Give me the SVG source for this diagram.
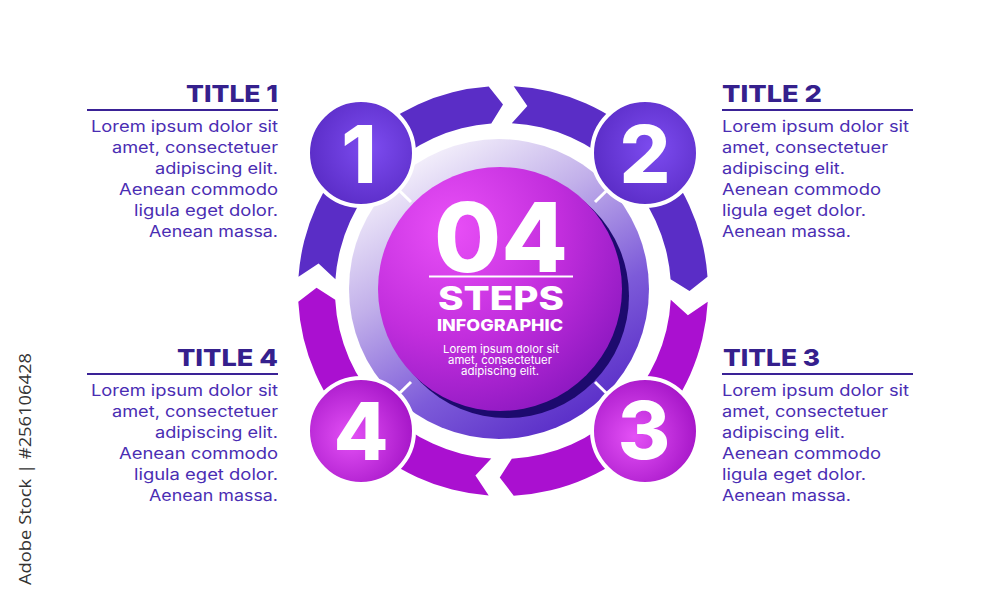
<svg xmlns="http://www.w3.org/2000/svg" width="1000" height="592" viewBox="0 0 1000 592">
<defs>
<style>
.title{font-family:Inter,"Liberation Sans",sans-serif;font-weight:800;font-size:23.5px;fill:#35208d}
.body{font-family:Inter,"Liberation Sans",sans-serif;font-weight:400;font-size:15.5px;fill:#4a2db3}
.rule{stroke:#3a2296;stroke-width:2}
.num{font-family:Inter,"Liberation Sans",sans-serif;font-weight:800;font-size:80px;fill:#fff;text-anchor:middle}
.hub{font-family:Inter,"Liberation Sans",sans-serif;font-weight:800;fill:#fff;text-anchor:middle}
.hubsmall{font-family:Inter,"Liberation Sans",sans-serif;font-weight:400;font-size:11px;fill:#fff;text-anchor:middle}
.spoke{stroke:#fff;stroke-width:3}
.ring{stroke:#fff;stroke-width:4}
.ind{fill:#5a2dc6}
.mag{fill:#aa10d0}
</style>
<linearGradient id="diskGrad" x1="0.2" y1="0.05" x2="0.75" y2="0.95">
<stop offset="0" stop-color="#f7f4fc"/>
<stop offset="0.35" stop-color="#c2b0ea"/>
<stop offset="0.7" stop-color="#7d5bd9"/>
<stop offset="1" stop-color="#5a2ec8"/>
</linearGradient>
<radialGradient id="sphereGrad" cx="0.3" cy="0.25" r="0.9">
<stop offset="0" stop-color="#e94ff7"/>
<stop offset="0.5" stop-color="#c22edd"/>
<stop offset="1" stop-color="#8414bc"/>
</radialGradient>
<radialGradient id="indGrad" cx="0.58" cy="0.45" r="0.6">
<stop offset="0" stop-color="#7d4cf0"/>
<stop offset="1" stop-color="#5a2cc6"/>
</radialGradient>
<radialGradient id="magGrad" cx="0.4" cy="0.55" r="0.6">
<stop offset="0" stop-color="#e451f6"/>
<stop offset="1" stop-color="#a616c8"/>
</radialGradient>
</defs>
<rect width="1000" height="592" fill="#fff"/>
<text transform="translate(31,469) rotate(-90)" text-anchor="middle" font-family="'Open Sans','Noto Sans',sans-serif" font-size="16" fill="#333" textLength="232" lengthAdjust="spacingAndGlyphs">Adobe Stock | #256106428</text>

<g id="connectors">
<path class="ind" d="M298.50,276.70 A205,205 0 0 1 488.70,86.50 L503,104.5 L491.28,123.41 A168,168 0 0 0 335.41,279.28 L318.55,263.43 Z"/>
<path class="ind" d="M513.73,86.28 A205,205 0 0 1 707.50,276.70 L689.5,291 L670.59,279.28 A168,168 0 0 0 511.79,123.23 L527.34,106.10 Z"/>
<path class="mag" d="M707.72,301.73 A205,205 0 0 1 513.73,495.72 L499.75,477.47 L511.79,458.77 A168,168 0 0 0 670.77,299.79 L687.90,315.34 Z"/>
<path class="mag" d="M488.70,495.50 A205,205 0 0 1 298.28,301.73 L316.53,287.75 L335.23,299.79 A168,168 0 0 0 491.28,458.59 L475.43,475.45 Z"/>
</g>

<g id="hub">
<circle cx="499" cy="289" r="150" fill="url(#diskGrad)"/>
<circle cx="507" cy="296" r="122" fill="#1d0a6e"/>
<circle cx="500" cy="289" r="122" fill="url(#sphereGrad)"/>
<text class="hub" x="501" y="272" font-size="96" textLength="134" lengthAdjust="spacingAndGlyphs">04</text>
<line x1="429" y1="276.5" x2="573" y2="276.5" stroke="#fff" stroke-width="2"/>
<text class="hub" x="501" y="310" font-size="32" textLength="126" lengthAdjust="spacingAndGlyphs">STEPS</text>
<text class="hub" x="500" y="331" font-size="16.5" textLength="126" lengthAdjust="spacingAndGlyphs">INFOGRAPHIC</text>
<text class="hubsmall" x="501" y="353" textLength="116" lengthAdjust="spacingAndGlyphs">Lorem ipsum dolor sit</text>
<text class="hubsmall" x="500" y="364" textLength="104" lengthAdjust="spacingAndGlyphs">amet, consectetuer</text>
<text class="hubsmall" x="500" y="375" textLength="78" lengthAdjust="spacingAndGlyphs">adipiscing elit.</text>
</g>

<g id="spokes">
<line class="spoke" x1="396.7" y1="188" x2="411" y2="202"/>
<line class="spoke" x1="609.3" y1="188" x2="595" y2="202"/>
<line class="spoke" x1="609.3" y1="396" x2="595" y2="382"/>
<line class="spoke" x1="396.7" y1="396" x2="411" y2="382"/>
</g>

<g id="step1">
<circle class="ring" cx="361" cy="153" r="53" fill="url(#indGrad)"/>
<text class="num" x="359" y="183">1</text>
</g>
<g id="step2">
<circle class="ring" cx="645" cy="153" r="53" fill="url(#indGrad)"/>
<text class="num" x="645" y="183">2</text>
</g>
<g id="step3">
<circle class="ring" cx="645" cy="431" r="53" fill="url(#magGrad)"/>
<text class="num" x="644" y="459">3</text>
</g>
<g id="step4">
<circle class="ring" cx="361" cy="431" r="53" fill="url(#magGrad)"/>
<text class="num" x="361" y="460">4</text>
</g>

<g id="label1" text-anchor="end">
<text class="title" x="278" y="102" textLength="92" lengthAdjust="spacingAndGlyphs">TITLE 1</text>
<line class="rule" x1="87" y1="110" x2="278" y2="110"/>
<text class="body" x="278" y="132" textLength="187" lengthAdjust="spacingAndGlyphs">Lorem ipsum dolor sit</text>
<text class="body" x="278" y="153" textLength="166" lengthAdjust="spacingAndGlyphs">amet, consectetuer</text>
<text class="body" x="278" y="174" textLength="123" lengthAdjust="spacingAndGlyphs">adipiscing elit.</text>
<text class="body" x="278" y="195" textLength="159" lengthAdjust="spacingAndGlyphs">Aenean commodo</text>
<text class="body" x="278" y="216" textLength="144" lengthAdjust="spacingAndGlyphs">ligula eget dolor.</text>
<text class="body" x="278" y="237" textLength="129" lengthAdjust="spacingAndGlyphs">Aenean massa.</text>
</g>
<g id="label2">
<text class="title" x="722" y="102" textLength="100" lengthAdjust="spacingAndGlyphs">TITLE 2</text>
<line class="rule" x1="722" y1="110" x2="913" y2="110"/>
<text class="body" x="722" y="132" textLength="187" lengthAdjust="spacingAndGlyphs">Lorem ipsum dolor sit</text>
<text class="body" x="722" y="153" textLength="166" lengthAdjust="spacingAndGlyphs">amet, consectetuer</text>
<text class="body" x="722" y="174" textLength="123" lengthAdjust="spacingAndGlyphs">adipiscing elit.</text>
<text class="body" x="722" y="195" textLength="159" lengthAdjust="spacingAndGlyphs">Aenean commodo</text>
<text class="body" x="722" y="216" textLength="144" lengthAdjust="spacingAndGlyphs">ligula eget dolor.</text>
<text class="body" x="722" y="237" textLength="129" lengthAdjust="spacingAndGlyphs">Aenean massa.</text>
</g>
<g id="label3">
<text class="title" x="723" y="366" textLength="97" lengthAdjust="spacingAndGlyphs">TITLE 3</text>
<line class="rule" x1="722" y1="374" x2="913" y2="374"/>
<text class="body" x="722" y="396" textLength="187" lengthAdjust="spacingAndGlyphs">Lorem ipsum dolor sit</text>
<text class="body" x="722" y="417" textLength="166" lengthAdjust="spacingAndGlyphs">amet, consectetuer</text>
<text class="body" x="722" y="438" textLength="123" lengthAdjust="spacingAndGlyphs">adipiscing elit.</text>
<text class="body" x="722" y="459" textLength="159" lengthAdjust="spacingAndGlyphs">Aenean commodo</text>
<text class="body" x="722" y="480" textLength="144" lengthAdjust="spacingAndGlyphs">ligula eget dolor.</text>
<text class="body" x="722" y="501" textLength="129" lengthAdjust="spacingAndGlyphs">Aenean massa.</text>
</g>
<g id="label4" text-anchor="end">
<text class="title" x="278" y="366" textLength="101" lengthAdjust="spacingAndGlyphs">TITLE 4</text>
<line class="rule" x1="87" y1="374" x2="278" y2="374"/>
<text class="body" x="278" y="396" textLength="187" lengthAdjust="spacingAndGlyphs">Lorem ipsum dolor sit</text>
<text class="body" x="278" y="417" textLength="166" lengthAdjust="spacingAndGlyphs">amet, consectetuer</text>
<text class="body" x="278" y="438" textLength="123" lengthAdjust="spacingAndGlyphs">adipiscing elit.</text>
<text class="body" x="278" y="459" textLength="159" lengthAdjust="spacingAndGlyphs">Aenean commodo</text>
<text class="body" x="278" y="480" textLength="144" lengthAdjust="spacingAndGlyphs">ligula eget dolor.</text>
<text class="body" x="278" y="501" textLength="129" lengthAdjust="spacingAndGlyphs">Aenean massa.</text>
</g>
</svg>
